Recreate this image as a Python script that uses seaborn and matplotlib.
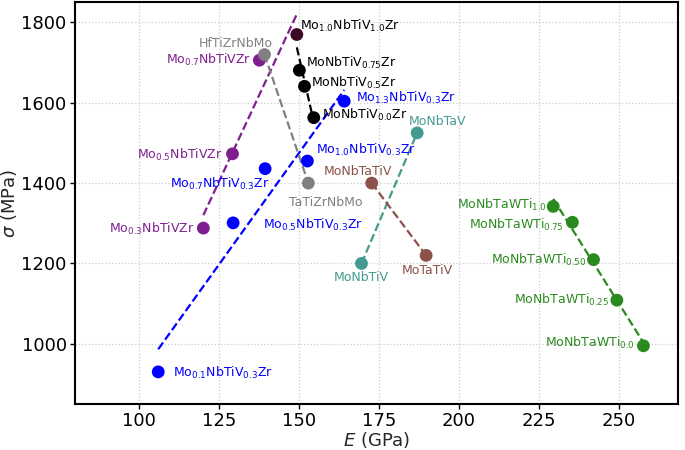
import numpy as np
import pandas as pd
import matplotlib
matplotlib.use("Agg")
import matplotlib.pyplot as plt
import seaborn as sns

# ---------------- data ----------------
blue_labels = ["Mo$_{0.1}$NbTiV$_{0.3}$Zr", "Mo$_{0.5}$NbTiV$_{0.3}$Zr", "Mo$_{0.7}$NbTiV$_{0.3}$Zr",
               "Mo$_{1.0}$NbTiV$_{0.3}$Zr", "Mo$_{1.3}$NbTiV$_{0.3}$Zr"]
blue_E = [106.0, 129.4, 139.4, 152.6, 164.1]
blue_s = [930, 1301, 1436, 1455, 1604]

purple_labels = ["Mo$_{0.3}$NbTiVZr", "Mo$_{0.5}$NbTiVZr", "Mo$_{0.7}$NbTiVZr"]
purple_E = [120.1, 129.2, 137.6]
purple_s = [1288, 1473, 1706]

maroon_labels = ["Mo$_{1.0}$NbTiV$_{1.0}$Zr"]
maroon_E = [149.3]
maroon_s = [1770]

black_labels = ["MoNbTiV$_{0.75}$Zr", "MoNbTiV$_{0.5}$Zr", "MoNbTiV$_{0.0}$Zr"]
black_E = [150.1, 151.7, 154.6]
black_s = [1681, 1641, 1563]

gray_labels = ["HfTiZrNbMo", "TaTiZrNbMo"]
gray_E = [139.2, 152.9]
gray_s = [1720, 1400]

teal_labels = ["MoNbTiV", "MoNbTaV"]
teal_E = [169.5, 186.9]
teal_s = [1200, 1525]

brown_labels = ["MoNbTaTiV", "MoTaTiV"]
brown_E = [172.7, 189.7]
brown_s = [1400, 1220]

green_labels = ["MoNbTaWTi$_{1.0}$", "MoNbTaWTi$_{0.75}$", "MoNbTaWTi$_{0.50}$",
                "MoNbTaWTi$_{0.25}$", "MoNbTaWTi$_{0.0}$"]
green_E = [229.4, 235.4, 242.0, 249.3, 257.6]
green_s = [1342, 1302.5, 1209.5, 1108.5, 995]

x_ticks = [100, 125, 150, 175, 200, 225, 250]
y_ticks = [1000, 1200, 1400, 1600, 1800]

# ---------------- styles ----------------
colors = {"blue": "#0000ff", "purple": "#7f1f8f", "maroon": "#3c0a24", "black": "#000000",
          "gray": "#808080", "teal": "#459a90", "brown": "#8c5148", "green": "#2a8a1e"}
text_colors = dict(colors, maroon="#000000")

groups = [("blue", blue_labels, blue_E, blue_s),
          ("purple", purple_labels, purple_E, purple_s),
          ("maroon", maroon_labels, maroon_E, maroon_s),
          ("black", black_labels, black_E, black_s),
          ("gray", gray_labels, gray_E, gray_s),
          ("teal", teal_labels, teal_E, teal_s),
          ("brown", brown_labels, brown_E, brown_s),
          ("green", green_labels, green_E, green_s)]

rows = []
for g, labs, es, ss in groups:
    for l, e, s in zip(labs, es, ss):
        rows.append({"group": g, "label": l, "E": e, "sigma": s})
df = pd.DataFrame(rows)

# label placement: (ha, dx, dy) in pixels
label_pos = {
    "Mo$_{1.0}$NbTiV$_{1.0}$Zr": ("left", 3, 9),
    "HfTiZrNbMo": ("right", 8, 11),
    "Mo$_{0.7}$NbTiVZr": ("right", -9, 0),
    "MoNbTiV$_{0.75}$Zr": ("left", 7, 7),
    "MoNbTiV$_{0.5}$Zr": ("left", 7, 3),
    "MoNbTiV$_{0.0}$Zr": ("left", 8, 3),
    "Mo$_{1.3}$NbTiV$_{0.3}$Zr": ("left", 12, 3),
    "Mo$_{0.5}$NbTiVZr": ("right", -10, -1),
    "Mo$_{0.7}$NbTiV$_{0.3}$Zr": ("right", 4, -15),
    "Mo$_{1.0}$NbTiV$_{0.3}$Zr": ("left", 9, 11),
    "TaTiZrNbMo": ("center", 17, -19),
    "MoNbTaTiV": ("center", -14, 12),
    "MoNbTaV": ("center", 20, 11),
    "MoNbTiV": ("center", 0, -14),
    "MoTaTiV": ("center", 1, -15),
    "Mo$_{0.3}$NbTiVZr": ("right", -9, -1),
    "Mo$_{0.5}$NbTiV$_{0.3}$Zr": ("left", 30, -2),
    "Mo$_{0.1}$NbTiV$_{0.3}$Zr": ("left", 15, -1),
    "MoNbTaWTi$_{1.0}$": ("right", -6, 1),
    "MoNbTaWTi$_{0.75}$": ("right", -9, -3),
    "MoNbTaWTi$_{0.50}$": ("right", -7, 0),
    "MoNbTaWTi$_{0.25}$": ("right", -8, 0),
    "MoNbTaWTi$_{0.0}$": ("right", -8, 3),
}

sns.set_style("ticks")
plt.rcParams["font.family"] = ["DejaVu Sans"]
plt.rcParams["mathtext.fontset"] = "dejavusans"

fig = plt.figure(figsize=(6.85, 4.5), dpi=100)
ax = fig.add_axes([0.1095, 0.1022, 0.8803, 0.8934])

# dashed trend lines (least-squares fits per family)
fits = [("purple", purple_E + maroon_E, purple_s + maroon_s),
        ("blue", blue_E, blue_s),
        ("black", maroon_E + black_E, maroon_s + black_s),
        ("gray", gray_E, gray_s),
        ("teal", teal_E, teal_s),
        ("brown", brown_E, brown_s),
        ("green", green_E, green_s)]
for g, xs, ys in fits:
    xs = np.array(xs); ys = np.array(ys)
    p = np.polyfit(xs, ys, 1)
    xl = np.array([xs.min(), xs.max()])
    ax.plot(xl, np.polyval(p, xl), ls="--", lw=1.6, color=colors[g], zorder=2)

sns.scatterplot(data=df, x="E", y="sigma", hue="group", palette=colors, s=85,
                edgecolor="none", linewidth=0, legend=False, ax=ax, zorder=3)

for _, r in df.iterrows():
    ha, dx, dy = label_pos[r["label"]]
    ax.annotate(r["label"], (r["E"], r["sigma"]), xytext=(dx, dy), textcoords="offset pixels",
                ha=ha, va="center", fontsize=9, color=text_colors[r["group"]], zorder=4)

ax.set_xlim(80, 268.4)
ax.set_ylim(850, 1851)
ax.set_xticks(x_ticks)
ax.set_yticks(y_ticks)
ax.grid(True, ls=":", color="#cccccc", lw=0.9)
ax.set_axisbelow(True)
for sp in ax.spines.values():
    sp.set_visible(True)
    sp.set_linewidth(1.5)
    sp.set_color("black")
ax.tick_params(direction="out", length=3.5, width=1.0, pad=2.5, labelsize=13, colors="black")
ax.set_xlabel("$E$ (GPa)", fontsize=13, labelpad=0)
ax.set_ylabel("$\\sigma$ (MPa)", fontsize=13, labelpad=2)

fig.savefig("out.png", dpi=100)
